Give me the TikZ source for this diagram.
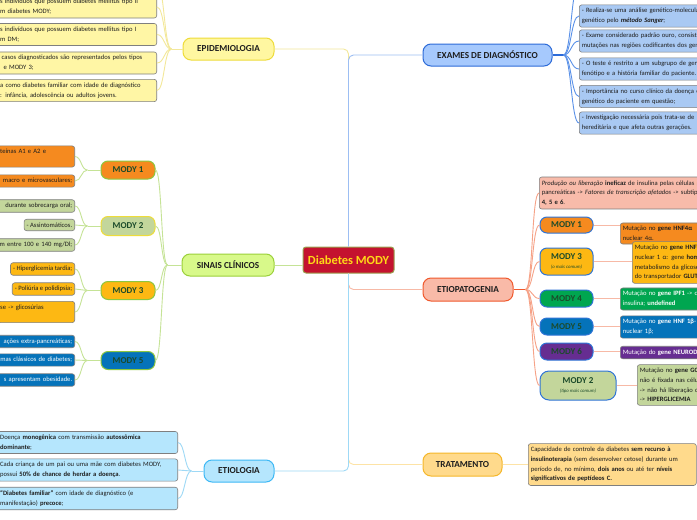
\documentclass[tikz,border=0pt]{standalone}
\usepackage{fontspec}
\setmainfont{Carlito}
\newcommand{\smit}{\fontsize{4.8}{5.2}\selectfont\itshape\mdseries}
\definecolor{epiF}{HTML}{FFF7A1}
\definecolor{epiB}{HTML}{EEDC3A}
\definecolor{epiL}{HTML}{F3E89A}
\definecolor{sinF}{HTML}{D8F98A}
\definecolor{sinB}{HTML}{9BD13A}
\definecolor{sinL}{HTML}{C5E396}
\definecolor{etlF}{HTML}{B5E6FD}
\definecolor{etlB}{HTML}{3DB8F5}
\definecolor{etlL}{HTML}{9ED9F6}
\definecolor{mainF}{HTML}{C4122F}
\definecolor{mainB}{HTML}{9AA050}
\definecolor{mainT}{HTML}{FFD917}
\definecolor{exF}{HTML}{A6C9FD}
\definecolor{exB}{HTML}{2D6BD8}
\definecolor{exL}{HTML}{9CBEF3}
\definecolor{exL2}{HTML}{5A91E8}
\definecolor{exN}{HTML}{A9C9F3}
\definecolor{etpF}{HTML}{F9BAA8}
\definecolor{etpB}{HTML}{F0592D}
\definecolor{etpL}{HTML}{F7B9A6}
\definecolor{etpL2}{HTML}{F6A287}
\definecolor{trF}{HTML}{FFDA8C}
\definecolor{trB}{HTML}{F5B72A}
\definecolor{trL}{HTML}{FDE3A6}
\definecolor{orangeM}{HTML}{F58A1F}
\definecolor{amberM}{HTML}{FDB813}
\definecolor{oliveM}{HTML}{C3D69B}
\definecolor{greenM}{HTML}{00A650}
\definecolor{blueM}{HTML}{0573BA}
\definecolor{purpleM}{HTML}{662D91}
\definecolor{modyT}{HTML}{1B4A2A}
\definecolor{lmodyB}{HTML}{8DC63F}
\definecolor{rmodyB}{HTML}{2F74D6}
\definecolor{noteB}{HTML}{7F7F7F}
\definecolor{txtD}{HTML}{1E1E1E}
\definecolor{salN}{HTML}{F8BBAA}
\definecolor{epiN}{HTML}{FFF6A5}
\begin{document}
\begin{tikzpicture}[x=1pt,y=-1pt,
  topic/.style={draw, line width=1pt, rounded corners=8pt, minimum height=22pt, inner sep=1pt, font=\fontsize{9.2}{10}\selectfont\bfseries, text=txtD},
  mody/.style={draw, line width=1pt, rounded corners=7pt, minimum width=54pt, inner sep=1pt, font=\fontsize{9}{9.5}\selectfont\bfseries, text=modyT, align=center},
  note/.style={draw=noteB, line width=0.6pt, rounded corners=2.5pt, font=\fontsize{6.6}{9.8}\selectfont, inner xsep=2.5pt, inner ysep=3.4pt, text=txtD},
  lnote/.style={note, anchor=east, align=left, text width=#1},
  lrnote/.style={note, anchor=east, align=right, text width=#1},
  rnote/.style={note, anchor=west, align=left, text width=#1},
  cl/.style={out=180,in=0,distance=#1},
  cr/.style={out=0,in=180,distance=#1},
  lk/.style={line width=0.9pt}
]
\useasboundingbox (0,0) rectangle (697,520);
\clip (0,0) rectangle (697,520);
\fill[white] (0,0) rectangle (697,520);

% main topics
\node[draw=mainB, fill=mainF, line width=1pt, rounded corners=3pt, minimum width=91pt, minimum height=26pt, inner sep=1pt, text=mainT, font=\fontsize{12.4}{13}\selectfont\bfseries] (main) at (348.5,260) {Diabetes MODY};
\node[topic, fill=epiF, draw=epiB, minimum width=91pt] (epi) at (228.5,49) {EPIDEMIOLOGIA};
\node[topic, fill=sinF, draw=sinB, minimum width=92pt] (sin) at (228,265) {SINAIS CLÍNICOS};
\node[topic, fill=etlF, draw=etlB, minimum width=70pt] (etl) at (239,471) {ETIOLOGIA};
\node[topic, fill=exF, draw=exB, minimum width=129pt] (ex) at (487.5,55) {EXAMES DE DIAGNÓSTICO};
\node[topic, fill=etpF, draw=etpB, minimum width=90pt, minimum height=23pt] (etp) at (468,289.5) {ETIOPATOGENIA};
\node[topic, fill=trF, draw=trB, minimum width=79pt, minimum height=23pt] (tr) at (462.5,464.5) {TRATAMENTO};

% trunk
\draw[lk, epiL, rounded corners=5pt] (main.north) |- (epi.east);
\draw[lk, exL, rounded corners=5pt] (main.north) |- (ex.west);
\draw[lk, etpL, rounded corners=5pt] (main.south) |- (etp.west);
\draw[lk, trL, rounded corners=5pt] (main.south) |- (tr.west);
\draw[lk, etlL, rounded corners=5pt] (main.south) |- (etl.east);
\draw[lk, sinL] (sin.east) -- (sin.east -| main.west);

% EPIDEMIOLOGIA notes
\node[lnote=154pt, fill=epiN] (ep1) at (157,7) {s indivíduos que possuem diabetes mellitus tipo II\\m diabetes MODY;};
\node[lnote=154pt, fill=epiN] (ep2) at (157,34.5) {s indivíduos que possuem diabetes mellitus tipo I\\m DM;};
\node[lnote=154pt, fill=epiN] (ep3) at (157,63) {\hspace*{1.5pt}casos diagnosticados são representados pelos tipos\\\hspace*{3.5pt}e MODY 3;};
\node[lnote=154pt, fill=epiN] (ep4) at (157,90.5) {a como diabetes familiar com idade de diagnóstico\\: infância, adolescência ou adultos jovens.};
\coordinate (ep0) at (157,-16);
\path (epi.west) ++(-11,0) coordinate (jE);
\draw[lk, epiL] (epi.west) -- (jE);
\foreach \n in {ep0,ep1,ep2,ep3,ep4} \draw[lk, epiL] (jE) to[cl=7.5pt] (\n.east |- \n);

% SINAIS CLINICOS
\node[mody, fill=orangeM, draw=lmodyB, minimum height=18pt] (lm1) at (128,170) {MODY 1};
\node[mody, fill=oliveM, draw=epiB, minimum height=19pt] (lm2) at (128,226) {MODY 2};
\node[mody, fill=amberM, draw=lmodyB, minimum height=18pt] (lm3) at (128,290.5) {MODY 3};
\node[mody, fill=blueM, draw=lmodyB, minimum height=18pt] (lm5) at (128,360.5) {MODY 5};
\path (sin.west) ++(-14,0) coordinate (jS);
\draw[lk, sinL] (sin.west) -- (jS);
\foreach \n in {lm1,lm2,lm3,lm5} \draw[lk, sinL] (jS) to[cl=6.5pt] (\n.east);

\node[lnote=72pt, fill=orangeM] (a1) at (75,156.5) {teínas A1 e A2 e\\\mbox{}};
\node[lrnote=88pt, fill=orangeM] (a2) at (75,181) {macro e microvasculares;};
\node[lrnote=88pt, fill=oliveM] (b1) at (75,206) {durante sobrecarga oral;};
\node[note, anchor=east, fill=oliveM] (b2) at (75,225) {- Assintomáticos.};
\node[lrnote=88pt, fill=oliveM] (b3) at (75,245) {m entre 100 e 140 mg/Dl;};
\node[note, anchor=east, fill=amberM] (c1) at (75,269) {- Hiperglicemia tardia;};
\node[note, anchor=east, fill=amberM] (c2) at (75,289) {- Poliúria e polidipsia;};
\node[lnote=72pt, fill=amberM] (c3) at (75,312) {se -> glicosúrias\\\mbox{}};
\node[lrnote=88pt, fill=blueM, text=white] (d1) at (75,341.5) {ações extra-pancreáticas;};
\node[lrnote=88pt, fill=blueM, text=white] (d2) at (75,360) {mas clássicos de diabetes;};
\node[lrnote=88pt, fill=blueM, text=white] (d3) at (75,380) {s apresentam obesidade.};

\path (lm1.west) ++(-13,0) coordinate (j1);
\draw[lk, sinL] (lm1.west) -- (j1);
\foreach \n in {a1,a2} \draw[lk, sinL] (j1) to[cl=6.5pt] (\n.east);
\path (lm2.west) ++(-13,0) coordinate (j2);
\draw[lk, sinL] (lm2.west) -- (j2);
\foreach \n in {b1,b2,b3} \draw[lk, sinL] (j2) to[cl=6.5pt] (\n.east);
\path (lm3.west) ++(-13,0) coordinate (j3);
\draw[lk, sinL] (lm3.west) -- (j3);
\foreach \n in {c1,c2,c3} \draw[lk, sinL] (j3) to[cl=6.5pt] (\n.east);
\path (lm5.west) ++(-13,0) coordinate (j5);
\draw[lk, sinL] (lm5.west) -- (j5);
\foreach \n in {d1,d2,d3} \draw[lk, sinL] (j5) to[cl=6.5pt] (\n.east);

% ETIOLOGIA notes
\node[lnote=175pt, fill=etlF] (e1) at (178,442.5) {Doença \textbf{monogênica} com transmissão \textbf{autossômica}\\\textbf{dominante};};
\node[lnote=175pt, fill=etlF] (e2) at (178,470) {Cada criança de um pai ou uma mãe com diabetes MODY,\\possui \textbf{50\% de chance de herdar a doença}.};
\node[lnote=175pt, fill=etlF] (e3) at (178,498.5) {\textbf{“Diabetes familiar”} com idade de diagnóstico (e\\manifestação) \textbf{precoce};};
\path (etl.west) ++(-12,0) coordinate (jL);
\draw[lk, etlL] (etl.west) -- (jL);
\foreach \n in {e1,e2,e3} \draw[lk, etlL] (jL) to[cl=7pt] (\n.east);

% EXAMES notes
\node[rnote=180pt, fill=exN] (x1) at (579,16) {- Realiza-se uma análise genético-molecular\\genético pelo \textbf{\textit{método Sanger}};};
\node[rnote=180pt, fill=exN] (x2) at (579,41) {- Exame considerado padrão ouro, consiste\\mutações nas regiões codificantes dos genes};
\node[rnote=180pt, fill=exN] (x3) at (579,69) {- O teste é restrito a um subgrupo de genes\\fenótipo e a história familiar do paciente.};
\node[rnote=180pt, fill=exN] (x4) at (579,96.5) {- Importância no curso clínico da doença e\\genético do paciente em questão;};
\node[rnote=180pt, fill=exN] (x5) at (579,123) {- Investigação necessária pois trata-se de\\hereditária e que afeta outras gerações.};
\coordinate (x0) at (579,-16);
\path (ex.east) ++(11,0) coordinate (jX);
\draw[line width=1.3pt, exB] (ex.east) -- (jX);
\foreach \n in {x0,x1,x2,x3,x4,x5} \draw[lk, exL2] (jX) to[cr=8pt] (\n.west |- \n);

% ETIOPATOGENIA
\node[rnote=200pt, fill=salN] (p0) at (539,193) {\textit{Produção ou liberação} \textbf{ineficaz} de insulina pelas células β\\pancreáticas -> \textit{Fatores de transcrição afetados} -> subtipos\\\textbf{4, 5 e 6}.};
\node[mody, fill=orangeM, draw=rmodyB, minimum width=53pt, minimum height=16pt] (rm1) at (566.5,225) {MODY 1};
\node[mody, fill=amberM, draw=rmodyB, minimum width=53pt, minimum height=27pt] (rm3) at (566.5,261.5) {MODY 3\\[-1pt]{\smit (o mais comum)}};
\node[mody, fill=greenM, draw=rmodyB, minimum width=53pt, minimum height=17pt] (rm4) at (566.5,298.5) {MODY 4};
\node[mody, fill=blueM, draw=rmodyB, minimum width=53pt, minimum height=17pt] (rm5) at (566.5,326.5) {MODY 5};
\node[mody, fill=purpleM, draw=rmodyB, minimum width=53pt, minimum height=17pt] (rm6) at (566.5,351.5) {MODY 6};
\node[mody, fill=oliveM, draw=rmodyB, minimum width=76pt, minimum height=29pt, rounded corners=9pt] (rm2) at (578,385.5) {MODY 2\\[-1pt]{\smit (tipo mais comum)}};
\path (etp.east) ++(12,0) coordinate (jP);
\draw[line width=1.3pt, etpB] (etp.east) -- (jP);
\foreach \n in {p0,rm1,rm3,rm4,rm5,rm6,rm2} \draw[lk, etpL2] (jP) to[cr=7.5pt] (\n.west);

\node[rnote=150pt, fill=orangeM] (q1) at (620,233.5) {Mutação no \textbf{gene HNF4α}\\nuclear 4α.};
\node[rnote=150pt, fill=amberM] (q3) at (632,262.5) {Mutação no \textbf{gene HNF1α}\\nuclear 1 α: gene \textbf{homeobox}\\metabolismo da glicose\\do transportador \textbf{GLUT2}};
\node[rnote=150pt, fill=greenM, text=white] (q4) at (620,299) {Mutação no \textbf{gene IPF1} -> codifica\\insulina; \textbf{undefined}};
\node[rnote=150pt, fill=blueM, text=white] (q5) at (620,327) {Mutação no \textbf{gene HNF 1β}- fator\\nuclear 1β;};
\node[rnote=150pt, fill=purpleM, text=white] (q6) at (620,352.5) {Mutação do \textbf{gene NEUROD1}};
\node[rnote=150pt, fill=oliveM] (q2) at (637,385) {Mutação no \textbf{gene GCK}\\não é fixada nas células\\-> não há liberação de\\-> \textbf{HIPERGLICEMIA}};
\draw[lk, etpL] (rm1.east) -- (rm1.east -| q1.west);
\draw[lk, etpL] (rm3.east) -- (rm3.east -| q3.west);
\draw[lk, etpL] (rm4.east) -- (rm4.east -| q4.west);
\draw[lk, etpL] (rm5.east) -- (rm5.east -| q5.west);
\draw[lk, etpL] (rm6.east) -- (rm6.east -| q6.west);
\draw[lk, etpL] (rm2.east) -- (rm2.east -| q2.west);

% TRATAMENTO
\node[rnote=163pt, fill=trF] (t1) at (528,464.5) {Capacidade de controle da diabetes \textbf{sem recurso à}\\\textbf{insulinoterapia} (sem desenvolver cetose) durante um\\período de, no mínimo, \textbf{dois anos} ou até ter \textbf{níveis}\\\textbf{significativos de peptídeos C.}};
\draw[lk, trL] (tr.east) -- (tr.east -| t1.west);
\end{tikzpicture}
\end{document}
